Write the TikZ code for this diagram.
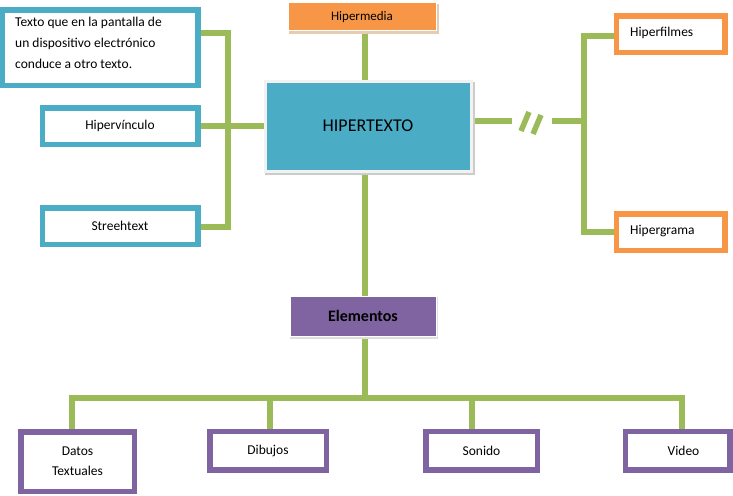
\documentclass[tikz,border=0pt]{standalone}
\usepackage{fontspec}
\setmainfont{Carlito}
\definecolor{gr}{HTML}{9BBB59}
\definecolor{bl}{HTML}{4BACC6}
\definecolor{og}{HTML}{F79646}
\definecolor{pu}{HTML}{8064A2}
\newcommand{\inner}[2]{\draw[#2,line width=0.9pt] ([shift={(5,5)}]#1.north west) rectangle ([shift={(-5,-5)}]#1.south east);}
\begin{document}
\begin{tikzpicture}[x=1pt,y=-1pt,
  conn/.style={gr,line width=5.5pt},
  dbox/.style={draw=#1,line width=5pt,fill=white,inner sep=0pt,font=\fontsize{13.5}{21}\selectfont}]
\useasboundingbox (0,0) rectangle (733,495);
% lines
\draw[conn] (200,33) -- (228,33) -- (228,227) -- (200,227);
\draw[conn] (200,126) -- (264,126);
\draw[conn] (365,30) -- (365,82);
\draw[conn] (365,170) -- (365,299);
\draw[conn] (365,335) -- (365,398);
\draw[conn] (470,121) -- (512,121);
\draw[conn] (552,121) -- (584,121);
\draw[conn] (521,131) -- (529,112);
\draw[conn] (533,134) -- (541,115);
\draw[conn] (614,36) -- (584,36) -- (584,232) -- (614,232);
\draw[conn] (72,430) -- (72,398) -- (682,398) -- (682,430);
\draw[conn] (270,398) -- (270,430);
\draw[conn] (472,398) -- (472,430);
% boxes
\node[dbox=bl,minimum width=196pt,minimum height=76pt] (t) at (100,47.5) {};
\inner{t}{bl}
\node[anchor=north west,align=left,inner sep=0pt,font=\fontsize{13.5}{21}\selectfont] (tt) at (15,17)
 {Texto que en la pantalla de\\un dispositivo electrónico\\conduce a otro texto.};
\node[dbox=bl,minimum width=156pt,minimum height=37pt] (hv) at (120,126) {Hipervínculo};
\inner{hv}{bl}
\node[dbox=bl,minimum width=156pt,minimum height=37pt] (st) at (120,226) {Streehtext};
\inner{st}{bl}
\node[dbox=og,minimum width=109pt,minimum height=37pt] (hf) at (670.5,34.5) {};
\inner{hf}{og}
\node[anchor=west,inner sep=0pt,font=\fontsize{13.5}{16}\selectfont] at (630,33) {Hiperfilmes};
\node[dbox=og,minimum width=109pt,minimum height=37pt] (hg) at (670.5,232) {};
\inner{hg}{og}
\node[anchor=west,inner sep=0pt,font=\fontsize{13.5}{16}\selectfont] at (630,231) {Hipergrama};
\node[fill=brown!40,minimum width=150pt,minimum height=30pt] at (363.5,19) {};
\node[fill=og,draw=white,line width=1pt,minimum width=148pt,minimum height=28pt,font=\fontsize{13}{15}\selectfont] (hm) at (362,17) {Hipermedia};
\node[fill=gray!40,minimum width=210pt,minimum height=93pt] at (370,128) {};
\node[fill=bl,draw=gray!10,line width=3pt,minimum width=206pt,minimum height=90pt,font=\fontsize{18}{20}\selectfont] (ht) at (368,126) {HIPERTEXTO};
\node[fill=gray!25,minimum width=148pt,minimum height=42pt] at (364,318) {};
\node[fill=pu,draw=white,line width=1pt,minimum width=146pt,minimum height=40pt,font=\fontsize{16}{18}\bfseries\selectfont] (el) at (363,316) {Elementos};
\node[dbox=pu,minimum width=114pt,minimum height=60pt,align=center,font=\fontsize{13.5}{20}\selectfont] (dt) at (77.5,461.5) {Datos\\Textuales};
\inner{dt}{pu}
\node[dbox=pu,minimum width=117pt,minimum height=39pt] (di) at (268,450.5) {Dibujos};
\inner{di}{pu}
\node[dbox=pu,minimum width=112pt,minimum height=39pt] (so) at (481.5,450.5) {Sonido};
\inner{so}{pu}
\node[dbox=pu,minimum width=105pt,minimum height=39pt] (vi) at (677.5,450.5) {\hspace*{12pt}Video};
\inner{vi}{pu}
\end{tikzpicture}
\end{document}
